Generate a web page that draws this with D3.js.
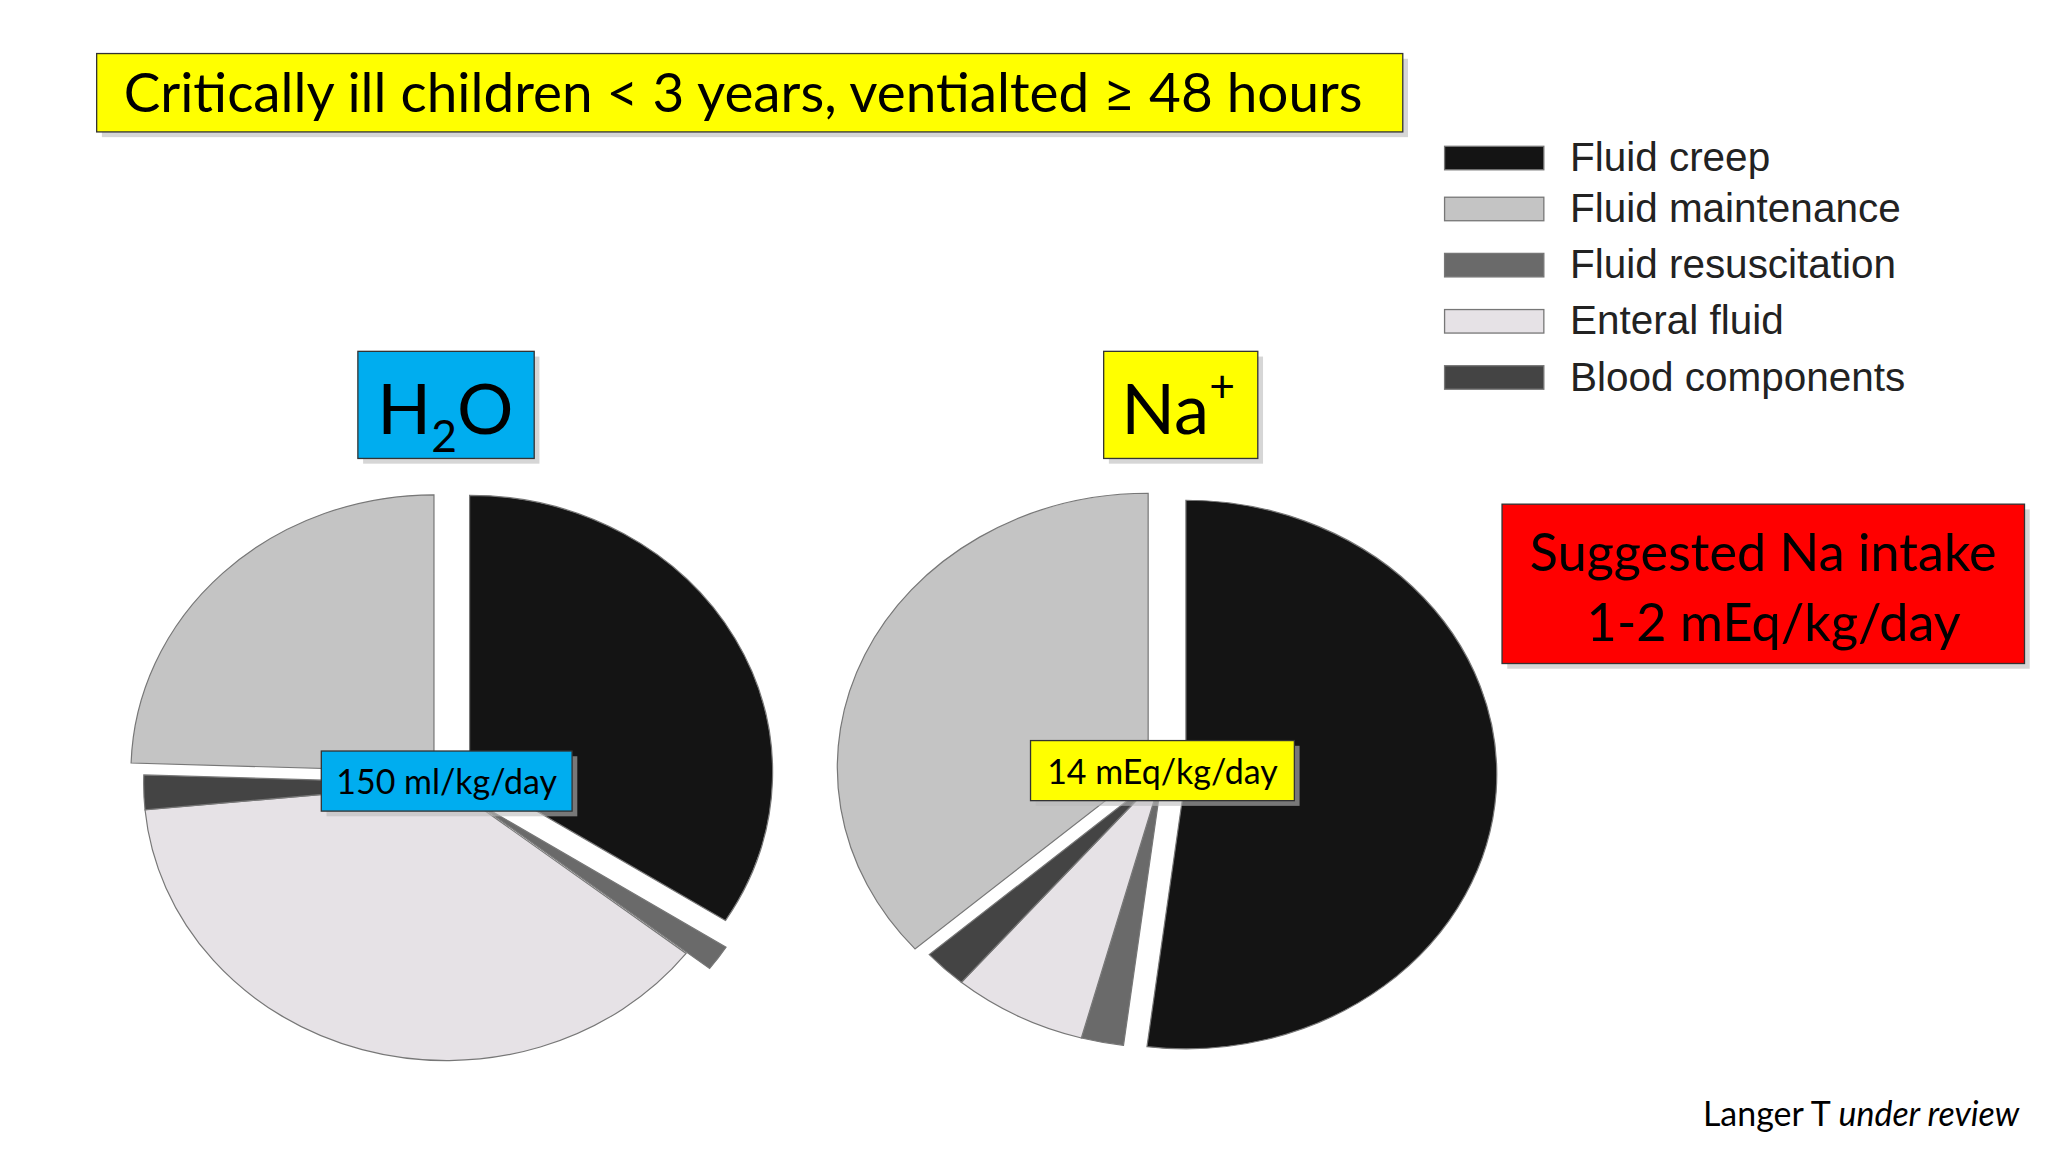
<!DOCTYPE html>
<html><head><meta charset="utf-8">
<script src="https://cdn.jsdelivr.net/npm/d3@7"></script>
<style>body{margin:0;background:#fff}</style></head>
<body><svg id="c"></svg>
<script>
// data
const categories = ["Fluid creep", "Fluid maintenance", "Fluid resuscitation", "Enteral fluid", "Blood components"];
const colors = ["#141414", "#c4c4c4", "#6a6a6a", "#e6e2e6", "#444444"];
// slice order as drawn clockwise from top: creep, resuscitation, enteral, blood, maintenance
const sliceOrder = [0, 2, 3, 4, 1];
const h2oValues = [34, 24.5, 1.5, 38, 2];
const naValues = [52, 36.5, 2.2, 7, 2.3];
const h2oLabel = "150 ml/kg/day";
const naLabel = "14 mEq/kg/day";

const W = 1568, H = 882;
const svg = d3.select("#c").attr("width", 2048).attr("height", 1152)
  .attr("viewBox", `0 0 ${W} ${H}`);
const gill = "'Lato', 'Open Sans', sans-serif";

function box(x, y, w, h, fill) {
  svg.append("rect").attr("x", x + 4).attr("y", y + 4).attr("width", w).attr("height", h).attr("fill", "#bbb").attr("opacity", 0.6);
  svg.append("rect").attr("x", x).attr("y", y).attr("width", w).attr("height", h).attr("fill", fill).attr("stroke", "#333").attr("stroke-width", 1);
}

// title
box(74, 41, 1000, 60, "#ffff00");
svg.append("text").attr("x", 569).attr("y", 86).attr("text-anchor", "middle")
  .attr("font-family", gill).attr("font-size", 42).text("Critically ill children < 3 years, ventialted ≥ 48 hours");

// pies
const pie = d3.pie().sort(null).value(d => d.v);
function drawPie(values, cx, cy, rx, ry, explode, label, lblColor, lw) {
  const data = sliceOrder.map(i => ({ i, v: values[i] }));
  const arcs = pie(data);
  const arc = d3.arc().innerRadius(0).outerRadius(rx);
  const g = svg.append("g").attr("transform", `translate(${cx},${cy}) scale(1,${ry / rx})`);
  g.selectAll("path").data(arcs).join("path")
    .attr("d", arc)
    .attr("transform", d => {
      const e = explode[d.data.i] || 0, a = (d.startAngle + d.endAngle) / 2;
      return `translate(${Math.sin(a) * e},${-Math.cos(a) * e})`;
    })
    .attr("fill", d => colors[d.data.i])
    .attr("stroke", "#777").attr("stroke-width", 1.2).attr("vector-effect", "non-scaling-stroke");
  box(cx - lw / 2, cy - 25, lw, 46, lblColor);
  svg.append("text").attr("x", cx).attr("y", cy + 8).attr("text-anchor", "middle")
    .attr("font-family", gill).attr("font-size", 26).text(label);
}
drawPie(h2oValues, 342, 600, 232, 212, { 0: 20, 2: 22, 1: 14 }, h2oLabel, "#00adef", 192);
drawPie(naValues, 890, 592, 238, 210, { 0: 18, 1: 12 }, naLabel, "#ffff00", 202);

// pie headers
box(274, 269, 135, 82, "#00adef");
const h = svg.append("text").attr("x", 341).attr("y", 332).attr("text-anchor", "middle")
  .attr("font-family", gill).attr("font-size", 54);
h.append("tspan").text("H");
h.append("tspan").attr("font-size", 34).attr("dy", 14).text("2");
h.append("tspan").attr("dy", -14).text("O");
box(845, 269, 118, 82, "#ffff00");
const n = svg.append("text").attr("x", 902).attr("y", 332).attr("text-anchor", "middle")
  .attr("font-family", gill).attr("font-size", 54);
n.append("tspan").text("Na");
n.append("tspan").attr("font-size", 34).attr("dy", -24).text("+");

// legend
const leg = svg.append("g").attr("transform", "translate(1106,112)");
const rows = leg.selectAll("g").data(categories).join("g")
  .attr("transform", (d, i) => `translate(0,${[0, 39, 82, 125, 168][i]})`);
rows.append("rect").attr("width", 76).attr("height", 18).attr("fill", (d, i) => colors[i]).attr("stroke", "#777");
rows.append("text").attr("x", 96).attr("y", 19).attr("font-family", "'Liberation Sans', Arial, sans-serif")
  .attr("font-size", 31).attr("fill", "#222").text(d => d);

// red box
box(1150, 386, 400, 122, "#ff0000");
svg.append("text").attr("x", 1350).attr("y", 437).attr("text-anchor", "middle")
  .attr("font-family", gill).attr("font-size", 40).text("Suggested Na intake");
svg.append("text").attr("x", 1358).attr("y", 491).attr("text-anchor", "middle")
  .attr("font-family", gill).attr("font-size", 40).text("1-2 mEq/kg/day");

// source
const s = svg.append("text").attr("x", 1546).attr("y", 862).attr("text-anchor", "end")
  .attr("font-family", gill).attr("font-size", 26);
s.append("tspan").text("Langer T ");
s.append("tspan").attr("font-style", "italic").text("under review");
</script></body></html>
